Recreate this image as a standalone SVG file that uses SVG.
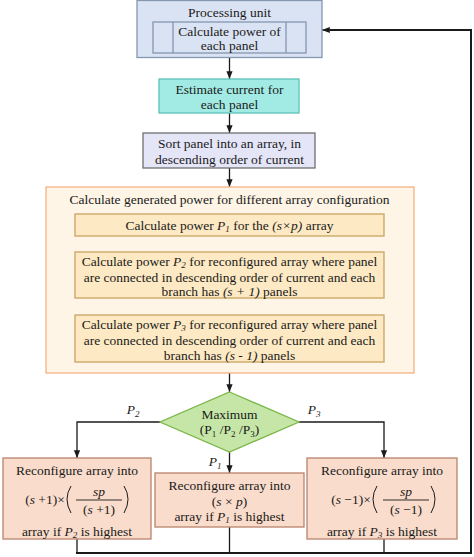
<svg xmlns="http://www.w3.org/2000/svg" width="474" height="557" viewBox="0 0 474 557">
<defs>
<style>
text{font-family:"Liberation Serif","Times New Roman",serif;font-size:13.5px;fill:#1a1a1a;text-anchor:middle}
.i{font-style:italic}
.sub{font-size:9px}
.ln{fill:none;stroke:#1a1a1a;stroke-width:1.3}
.thick{fill:none;stroke:#1a1a1a;stroke-width:2}
.or{fill:none;stroke:#e07b39;stroke-width:1.3}
.blue{fill:#dae3f3;stroke:#8497b0;stroke-width:1.3}
.cyan{fill:#a2ebe4;stroke:#5cc3b8;stroke-width:1.3}
.lav{fill:#e5e5f8;stroke:#6f6f6f;stroke-width:1.3}
.big{fill:#fef5e6;stroke:#f4b183;stroke-width:1.3}
.inner{fill:#fde9c3;stroke:#c9a363;stroke-width:1.3}
.dia{fill:#c6e6a8;stroke:#7ab648;stroke-width:1.3}
.res{fill:#f9dccb;stroke:#b9836b;stroke-width:1.3}
</style>
<marker id="ah" viewBox="0 0 10 10" refX="10" refY="5" markerWidth="6" markerHeight="6" orient="auto"><path d="M0,1 L10,5 L0,9 z" fill="#1a1a1a"/></marker>
<marker id="aho" viewBox="0 0 10 10" refX="10" refY="5" markerWidth="6" markerHeight="6" orient="auto"><path d="M0,1 L10,5 L0,9 z" fill="#e07b39"/></marker>
</defs>
<rect width="474" height="557" fill="#ffffff"/>

<g id="connectors">
<path class="ln" d="M229.5,57 V79" marker-end="url(#ah)"/>
<path class="ln" d="M229.5,113 V133" marker-end="url(#ah)"/>
<path class="ln" d="M229.5,168 V187" marker-end="url(#ah)"/>
<path class="or" d="M229.5,236 V252" marker-end="url(#aho)"/>
<path class="or" d="M229.5,298 V315" marker-end="url(#aho)"/>
<path class="ln" d="M229.5,373 V392" marker-end="url(#ah)"/>
<path class="ln" d="M160,422 H77 V458" marker-end="url(#ah)"/>
<path class="ln" d="M299,422 H384 V458" marker-end="url(#ah)"/>
<path class="ln" d="M229.5,452 V473" marker-end="url(#ah)"/>
<path class="ln" d="M77,539 V553"/>
<path class="ln" d="M229.5,527 V553"/>
<path class="ln" d="M384,539 V553"/>
<path class="thick" d="M76,553 H471 V30 H330"/>
<path class="ln" d="M331,30 H322" marker-end="url(#ah)"/>
</g>

<g id="processing">
<rect class="blue" x="137" y="0.5" width="185" height="57"/>
<text x="229.5" y="17">Processing unit</text>
<rect class="blue" x="153" y="22" width="153" height="31"/>
<line class="blue" x1="173" y1="22" x2="173" y2="53"/>
<line class="blue" x1="286" y1="22" x2="286" y2="53"/>
<text x="229.5" y="35.5">Calculate power of</text>
<text x="229.5" y="50">each panel</text>
</g>

<g id="estimate">
<rect class="cyan" x="159" y="79" width="140" height="34"/>
<text x="229.5" y="93.5">Estimate current for</text>
<text x="229.5" y="108.5">each panel</text>
</g>

<g id="sort">
<rect class="lav" x="143" y="133" width="172" height="35"/>
<text x="229.5" y="148">Sort panel into an array, in</text>
<text x="229.5" y="163.5">descending order of current</text>
</g>

<g id="calc">
<rect class="big" x="46" y="187" width="368" height="186"/>
<text x="229.5" y="203.5">Calculate  generated power for different array configuration</text>
</g>

<g id="p1">
<rect class="inner" x="75" y="214" width="309" height="22"/>
<text x="229.5" y="229.5">Calculate power <tspan class="i">P<tspan class="sub" dy="2">1</tspan></tspan><tspan dy="-2"> for the </tspan><tspan class="i">(s×p)</tspan> array</text>
</g>

<g id="p2">
<rect class="inner" x="75" y="252" width="309" height="46"/>
<text x="229.5" y="266">Calculate power <tspan class="i">P<tspan class="sub" dy="2">2</tspan></tspan><tspan dy="-2">  for reconfigured array where panel</tspan></text>
<text x="229.5" y="281.5">are connected in descending order of current and each</text>
<text x="229.5" y="296">branch has <tspan class="i">(s + 1)</tspan> panels</text>
</g>

<g id="p3">
<rect class="inner" x="75" y="315" width="309" height="47"/>
<text x="229.5" y="329">Calculate power <tspan class="i">P<tspan class="sub" dy="2">3</tspan></tspan><tspan dy="-2">  for reconfigured array where panel</tspan></text>
<text x="229.5" y="344.5">are connected in descending order of current and each</text>
<text x="229.5" y="359.5">branch has <tspan class="i">(s - 1)</tspan> panels</text>
</g>

<g id="maximum">
<polygon class="dia" points="229.5,392 299,422 229.5,452 160,422"/>
<text x="229.5" y="419">Maximum</text>
<text x="229.5" y="434">(P<tspan class="sub" dy="2.5">1</tspan><tspan dy="-2.5"> /P</tspan><tspan class="sub" dy="2.5">2</tspan><tspan dy="-2.5"> /P</tspan><tspan class="sub" dy="2.5">3</tspan><tspan dy="-2.5">)</tspan></text>
</g>

<g id="labels">
<text class="i" x="133" y="414">P<tspan class="sub" dy="3">2</tspan></text>
<text class="i" x="314" y="414">P<tspan class="sub" dy="3">3</tspan></text>
<text class="i" x="215" y="466">P<tspan class="sub" dy="3">1</tspan></text>
</g>

<g id="reconf2">
<rect class="res" x="3" y="458" width="148" height="81"/>
<text x="77" y="474.5">Reconfigure array into</text>
<text x="45" y="503.5"><tspan>(</tspan><tspan class="i">s</tspan><tspan> +1)×</tspan></text>
<path d="M71,486 Q63,499 71,513" fill="none" stroke="#1a1a1a" stroke-width="1"/>
<text class="i" x="99" y="496">sp</text>
<line x1="76" y1="500" x2="122" y2="500" stroke="#1a1a1a" stroke-width="0.9"/>
<text x="99" y="514">(<tspan class="i">s</tspan> +1)</text>
<path d="M124,486 Q132,499 124,513" fill="none" stroke="#1a1a1a" stroke-width="1"/>
<text x="77" y="535.5">array if <tspan class="i">P<tspan class="sub" dy="2">2</tspan></tspan><tspan dy="-2"> is highest</tspan></text>
</g>

<g id="reconf1">
<rect class="res" x="155" y="473" width="149" height="54"/>
<text x="229.5" y="490">Reconfigure array into</text>
<text x="229.5" y="506">(<tspan class="i">s</tspan> × <tspan class="i">p</tspan>)</text>
<text x="229.5" y="521">array if <tspan class="i">P<tspan class="sub" dy="2">1</tspan></tspan><tspan dy="-2"> is highest</tspan></text>
</g>

<g id="reconf3">
<rect class="res" x="307" y="458" width="150" height="81"/>
<text x="382" y="474.5">Reconfigure array into</text>
<text x="351" y="503.5"><tspan>(</tspan><tspan class="i">s</tspan><tspan> −1)×</tspan></text>
<path d="M377,486 Q369,499 377,513" fill="none" stroke="#1a1a1a" stroke-width="1"/>
<text class="i" x="406" y="496">sp</text>
<line x1="383" y1="500" x2="429" y2="500" stroke="#1a1a1a" stroke-width="0.9"/>
<text x="406" y="514">(<tspan class="i">s</tspan> −1)</text>
<path d="M431,486 Q439,499 431,513" fill="none" stroke="#1a1a1a" stroke-width="1"/>
<text x="382" y="535.5">array if <tspan class="i">P<tspan class="sub" dy="2">3</tspan></tspan><tspan dy="-2"> is highest</tspan></text>
</g>
</svg>
